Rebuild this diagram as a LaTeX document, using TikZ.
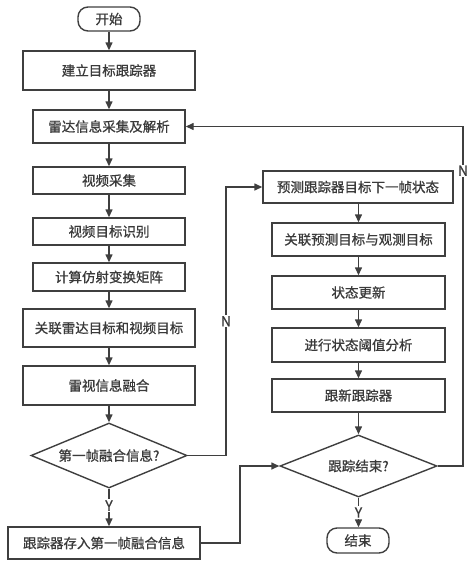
\documentclass[tikz,border=0pt]{standalone}
\usepackage{fontspec}
\setmainfont{Noto Sans CJK SC}[FakeBold=0.8]
\usetikzlibrary{shapes.geometric,arrows.meta}
\definecolor{linegray}{HTML}{3F3F3F}
\definecolor{textgray}{HTML}{3A3A3A}
\begin{document}
\begin{tikzpicture}[x=1pt, y=-1pt,
        font=\fontsize{13.5}{15}\selectfont, text=textgray,
        stepbox/.style={draw=linegray, line width=1.4pt, inner sep=0pt},
        termbox/.style={stepbox, rounded corners=10pt, minimum width=62pt},
        decision/.style={stepbox, diamond, aspect=2.4},
        flow/.style={draw=linegray, line width=1.4pt, -{Triangle[length=8pt,width=7pt]}},
        lab/.style={fill=white, inner sep=1pt, font=\fontsize{14}{15}\selectfont}]
    \useasboundingbox (0,0) rectangle (474,566);
    \node[termbox, minimum height=24pt] (start) at (109,19) {开始};
    \node[stepbox, minimum width=172pt, minimum height=39pt] (build) at (109,70.5) {建立目标跟踪器};
    \node[stepbox, minimum width=152pt, minimum height=33pt] (radar) at (109,126.5) {雷达信息采集及解析};
    \node[stepbox, minimum width=152pt, minimum height=27pt] (video) at (109,180.5) {视频采集};
    \node[stepbox, minimum width=152pt, minimum height=27pt] (detect) at (109,231.5) {视频目标识别};
    \node[stepbox, minimum width=152pt, minimum height=28pt] (affine) at (109,277) {计算仿射变换矩阵};
    \node[stepbox, minimum width=172pt, minimum height=38pt] (assoc) at (109,328) {关联雷达目标和视频目标};
    \node[stepbox, minimum width=172pt, minimum height=39pt] (fuse) at (109,385.5) {雷视信息融合};
    \node[decision, minimum width=156pt, minimum height=65pt] (first) at (109,455.5) {第一帧融合信息?};
    \node[stepbox, minimum width=192pt, minimum height=32pt] (store) at (104,543) {跟踪器存入第一帧融合信息};
    \node[stepbox, minimum width=190pt, minimum height=32pt] (predict) at (358,187) {预测跟踪器目标下一帧状态};
    \node[stepbox, minimum width=173pt, minimum height=33pt] (match) at (358.5,239.5) {关联预测目标与观测目标};
    \node[stepbox, minimum width=173pt, minimum height=33pt] (update) at (358.5,292.5) {状态更新};
    \node[stepbox, minimum width=173pt, minimum height=34pt] (thresh) at (358.5,345) {进行状态阈值分析};
    \node[stepbox, minimum width=173pt, minimum height=33pt] (renew) at (358.5,395.5) {跟新跟踪器};
    \node[decision, minimum width=157pt, minimum height=62pt] (done) at (358.5,466) {跟踪结束?};
    \node[termbox, minimum height=25pt] (stop) at (358,540.5) {结束};
    \coordinate (firstN) at (226,455.5);
    \coordinate (storeR) at (240,543);
    \coordinate (doneN) at (463,466);
    \draw[flow] (start) -- (build);
    \draw[flow] (build) -- (radar);
    \draw[flow] (radar) -- (video);
    \draw[flow] (video) -- (detect);
    \draw[flow] (detect) -- (affine);
    \draw[flow] (affine) -- (assoc);
    \draw[flow] (assoc) -- (fuse);
    \draw[flow] (fuse) -- (first);
    \draw[flow] (first.south) -- node[lab, pos=0.45]{Y} (first.south |- store.north);
    \draw[flow] (first.east) -- (firstN) |- node[lab, pos=0.25]{N} (predict.west);
    \draw[flow] (store.east) -- (storeR) |- (done.west);
    \draw[flow] (predict.south -| match) -- (match);
    \draw[flow] (match) -- (update);
    \draw[flow] (update) -- (thresh);
    \draw[flow] (thresh) -- (renew);
    \draw[flow] (renew) -- (done);
    \draw[flow] (done.south) -- node[lab, pos=0.5]{Y} (done.south |- stop.north);
    \draw[flow] (done.east) -- (doneN) |- node[lab, pos=0.435]{N} (radar.east);
\end{tikzpicture}
\end{document}
